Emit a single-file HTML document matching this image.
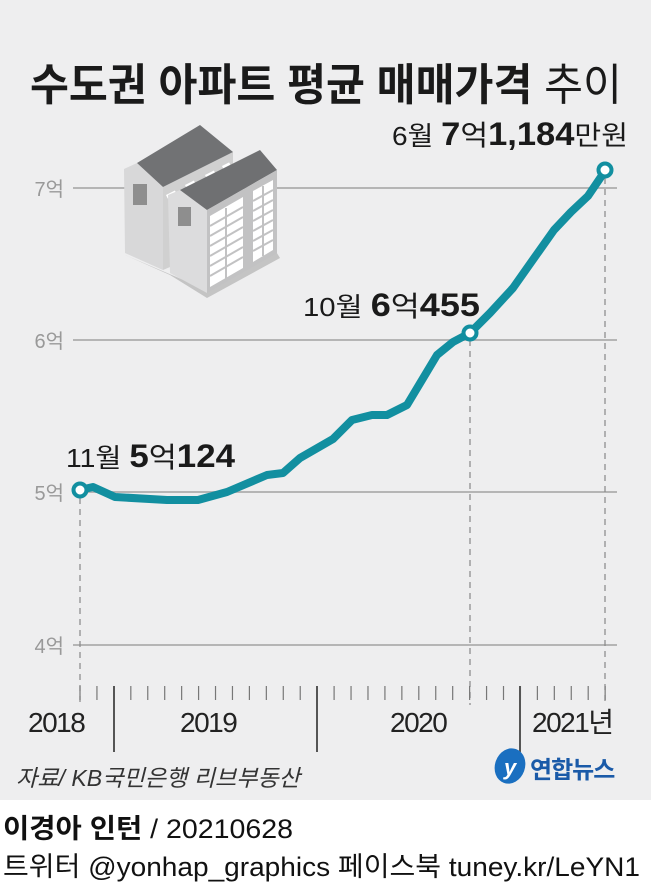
<!DOCTYPE html>
<html><head><meta charset="utf-8"><style>
body{margin:0;width:651px;height:893px;background:#fff;overflow:hidden}
svg{display:block}
text{font-family:"Liberation Sans","Noto Sans CJK KR",sans-serif}
</style></head><body>
<svg width="651" height="893" viewBox="0 0 651 893">
<rect x="0" y="0" width="651" height="800" fill="#eeeeef"/>
<text x="30" y="100" textLength="592" lengthAdjust="spacingAndGlyphs" font-size="44" font-weight="bold" fill="#1a1a1a">수도권 아파트 평균 매매가격 <tspan font-weight="normal">추이</tspan></text>
<g stroke="#b5b5b5" stroke-width="2">
<line x1="73" y1="188" x2="617" y2="188"/>
<line x1="73" y1="340" x2="617" y2="340"/>
<line x1="73" y1="492" x2="617" y2="492"/>
<line x1="73" y1="645" x2="617" y2="645"/>
</g>
<g font-size="20" fill="#999" text-anchor="end">
<text x="64" y="196">7억</text><text x="64" y="348">6억</text><text x="64" y="500">5억</text><text x="64" y="653">4억</text>
</g>
<!-- building -->
<g>
<polygon points="125,255 170,275 207,298 280,258 275,250 207,290" fill="#9a9a9a" opacity="0.5"/>
<!-- back building -->
<polygon points="163,187 233,152 233,240 163,270" fill="#d0d0d0"/>
<g fill="#fff"><rect x="166" y="195" width="10" height="4" transform="rotate(-27 166 195)"/><rect x="185" y="185" width="10" height="4" transform="rotate(-27 185 185)"/><rect x="205" y="175" width="10" height="4" transform="rotate(-27 205 175)"/><rect x="222" y="166" width="8" height="4" transform="rotate(-27 222 166)"/></g>
<polygon points="124,169 137,163 163,187 163,270 125,253" fill="#d8d8d9"/>
<polygon points="137,163 200,125 233,152 163,187" fill="#717274"/>
<rect x="133" y="184" width="14" height="21" fill="#8e8e8e"/>
<!-- front building -->
<polygon points="168,195 180,190 207,210 207,293 170,273" fill="#dcdcdd"/>
<polygon points="180,190 260,150 277,170 207,210" fill="#6f7072"/>
<polygon points="207,210 277,170 277,253 207,293" fill="#c2c2c3"/>
<rect x="178" y="207" width="13" height="19" fill="#8e8e8e"/>
<g fill="#fff">
<polygon points="210,216 243,197 243,268 210,287"/>
<polygon points="253,191 273,180 273,250 253,262"/>
</g>
<g stroke="#c2c2c3" stroke-width="2">
<line x1="226" y1="208" x2="226" y2="279"/>
<line x1="263" y1="186" x2="263" y2="256"/>
<line x1="210" y1="226" x2="243" y2="207"/><line x1="210" y1="236" x2="243" y2="217"/><line x1="210" y1="246" x2="243" y2="227"/><line x1="210" y1="256" x2="243" y2="237"/><line x1="210" y1="266" x2="243" y2="247"/><line x1="210" y1="276" x2="243" y2="257"/>
<line x1="253" y1="201" x2="273" y2="190"/><line x1="253" y1="211" x2="273" y2="200"/><line x1="253" y1="221" x2="273" y2="210"/><line x1="253" y1="231" x2="273" y2="220"/><line x1="253" y1="241" x2="273" y2="230"/><line x1="253" y1="251" x2="273" y2="240"/>
</g>
</g>
<g stroke="#888" stroke-width="1.2" stroke-dasharray="6,5">
<line x1="80" y1="498" x2="80" y2="705"/>
<line x1="470" y1="340" x2="470" y2="705"/>
<line x1="605" y1="178" x2="605" y2="705"/>
</g>
<g stroke="#777" stroke-width="1.2" id="ticks"></g>
<g stroke="#555" stroke-width="2">
<line x1="114" y1="686" x2="114" y2="752"/>
<line x1="317" y1="686" x2="317" y2="752"/>
<line x1="520" y1="686" x2="520" y2="752"/>
</g>
<g font-size="28" fill="#222" letter-spacing="-1.5">
<text x="28" y="732">2018</text><text x="180" y="732">2019</text><text x="390" y="732">2020</text><text x="532" y="732">2021년</text>
</g>
<polyline fill="none" stroke="#128fa0" stroke-width="8" stroke-linejoin="round" stroke-linecap="round"
points="80,490 93,487 115,497 167,500 198,500 227,492 267,475 283,473 300,458 333,439 352,420 372,415 387,415 407,405 437,355 453,342 470,333 490,313 513,288 537,254 554,230 571,212 588,196 605,171"/>
<g fill="#fff" stroke="#128fa0" stroke-width="4">
<circle cx="80" cy="490" r="6.5"/><circle cx="470" cy="333" r="6.5"/><circle cx="605" cy="170" r="6.5"/>
</g>
<g fill="#1a1a1a">
<text x="66" y="467" textLength="169" lengthAdjust="spacingAndGlyphs" font-size="26">11월 <tspan font-weight="bold" font-size="32">5</tspan><tspan font-size="28">억</tspan><tspan font-weight="bold" font-size="32">124</tspan></text>
<text x="303" y="316" textLength="177" lengthAdjust="spacingAndGlyphs" font-size="26">10월 <tspan font-weight="bold" font-size="32">6</tspan><tspan font-size="28">억</tspan><tspan font-weight="bold" font-size="32">455</tspan></text>
<text x="392" y="145" textLength="236" lengthAdjust="spacingAndGlyphs" font-size="26">6월 <tspan font-weight="bold" font-size="32">7</tspan><tspan font-size="28">억</tspan><tspan font-weight="bold" font-size="32">1,184</tspan><tspan font-size="27">만원</tspan></text>
</g>
<text x="16" y="786" textLength="284" lengthAdjust="spacingAndGlyphs" font-size="23" font-style="italic" fill="#333">자료/ KB국민은행 리브부동산</text>
<ellipse cx="510" cy="766" rx="15" ry="18" fill="#1a6fc0" transform="rotate(20 510 766)"/>
<text x="504" y="775" font-size="22" font-style="italic" fill="#fff" font-weight="bold">y</text>
<text x="530" y="778" font-size="24" font-weight="bold" fill="#1a5aa8" letter-spacing="-1">연합뉴스</text>
<text x="3" y="838" textLength="290" lengthAdjust="spacingAndGlyphs" font-size="27" fill="#111"><tspan font-weight="bold">이경아 인턴</tspan> / 20210628</text>
<text x="3" y="876" textLength="637" lengthAdjust="spacingAndGlyphs" font-size="27" fill="#111">트위터 @yonhap_graphics  페이스북 tuney.kr/LeYN1</text>
</svg>
<script>
var g=document.getElementById('ticks'),s='';
for(var i=0;i<=31;i++){var x=80+i*16.94;s+='<line x1="'+x+'" y1="686" x2="'+x+'" y2="700"/>';}
g.innerHTML=s;
</script>
</body></html>
